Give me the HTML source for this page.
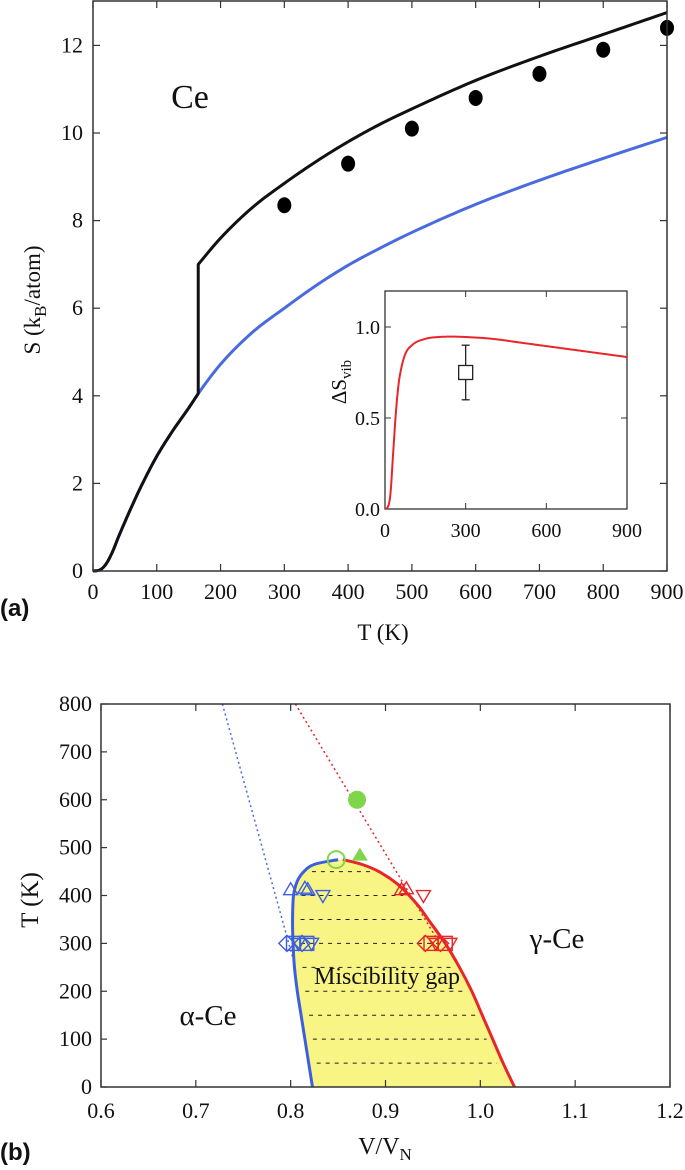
<!DOCTYPE html>
<html><head><meta charset="utf-8">
<style>
html,body{margin:0;padding:0;background:#fff;}
svg{display:block;}
text{font-family:"Liberation Serif","DejaVu Serif",serif;}
text.sans{font-family:"Liberation Sans",sans-serif;}
</style></head>
<body>
<svg id="fig" width="685" height="1170" viewBox="0 0 685 1170" xmlns="http://www.w3.org/2000/svg"></svg>
<script>
// ---------- data: panel (a) ----------
const aTicksX = [0,100,200,300,400,500,600,700,800,900];
const aTicksY = [0,2,4,6,8,10,12];
const blueT = [0,10,20,30,40,50,60,75,100,125,150,165,200,250,300,350,400,450,500,600,700,800,900];
const blueS = [0,0.02,0.15,0.42,0.78,1.12,1.45,1.92,2.62,3.2,3.72,4.05,4.72,5.45,6.0,6.52,6.98,7.37,7.73,8.37,8.92,9.42,9.9];
const blackT = [165,200,250,300,350,400,450,500,600,700,800,900];
const blackS = [7.0,7.6,8.3,8.85,9.35,9.8,10.2,10.55,11.2,11.75,12.25,12.75];
const dotT = [300,400,500,600,700,800,900];
const dotS = [8.35,9.3,10.1,10.8,11.35,11.9,12.4];
// inset
const inTicksX = [0,300,600,900];
const inTicksY = [0.0,0.5,1.0];
const inT = [0,10,20,30,40,50,60,75,100,150,200,250,300,400,500,600,700,800,900];
const inDS = [0,0.01,0.08,0.3,0.52,0.68,0.77,0.85,0.9,0.935,0.945,0.947,0.945,0.935,0.915,0.895,0.875,0.855,0.835];
const inPtT = [300]; const inPtV = [0.75]; const inPtErr = [0.15];
// ---------- data: panel (b) ----------
const bTicksX = [0.6,0.7,0.8,0.9,1.0,1.1,1.2];
const bTicksY = [0,100,200,300,400,500,600,700,800];
const blueBT = [0,50,100,150,200,250,300,350,400,430,450,465,475];
const blueBV = [0.823,0.819,0.815,0.811,0.807,0.804,0.8025,0.802,0.803,0.807,0.814,0.825,0.85];
const redBT = [475,465,450,425,400,375,350,300,250,200,150,100,50,0];
const redBV = [0.855,0.875,0.893,0.912,0.925,0.936,0.945,0.963,0.978,0.991,1.002,1.013,1.024,1.036];
const blueDotT = [800,250]; const blueDotV = [0.728,0.805];
const redDotT = [800,300]; const redDotV = [0.805,0.957];
const gapLevels = [50,100,150,200,250,300,350,400,450];
const blueUpV = [0.80,0.815,0.818]; const blueUpT = [412,415,412];
const blueDnV = [0.834]; const blueDnT = [400];
const blue300V = [0.796,0.803,0.808,0.812,0.817,0.822];
const redUpV = [0.917,0.922]; const redUpT = [412,414];
const redDnV = [0.94]; const redDnT = [400];
const red300V = [0.942,0.948,0.953,0.958,0.963,0.968];

const NS="http://www.w3.org/2000/svg";
const svg=document.getElementById('fig');
function mk(tag,attrs,parent){const e=document.createElementNS(NS,tag);for(const k in attrs)e.setAttribute(k,attrs[k]);(parent||svg).appendChild(e);return e;}
function txt(s,x,y,size,parent,anchor){const t=mk('text',{x:x,y:y,'font-size':size,'text-anchor':anchor||'middle',fill:'#111'},parent);t.textContent=s;return t;}
function smooth(pts){let d='M'+pts[0][0]+','+pts[0][1];for(let i=0;i<pts.length-1;i++){const p0=pts[Math.max(0,i-1)],p1=pts[i],p2=pts[i+1],p3=pts[Math.min(pts.length-1,i+2)];const c1=[p1[0]+(p2[0]-p0[0])/6,p1[1]+(p2[1]-p0[1])/6],c2=[p2[0]-(p3[0]-p1[0])/6,p2[1]-(p3[1]-p1[1])/6];d+=' C'+c1[0]+','+c1[1]+' '+c2[0]+','+c2[1]+' '+p2[0]+','+p2[1];}return d;}
function mono(xs,ys,n){const m=xs.length;const d=[],t=new Array(m);for(let i=0;i<m-1;i++)d.push((ys[i+1]-ys[i])/(xs[i+1]-xs[i]));
 t[0]=d[0];t[m-1]=d[m-2];for(let i=1;i<m-1;i++){t[i]=(d[i-1]*d[i]<=0)?0:(d[i-1]+d[i])/2;}
 for(let i=0;i<m-1;i++){if(d[i]===0){t[i]=t[i+1]=0;continue;}const a=t[i]/d[i],b=t[i+1]/d[i],s=a*a+b*b;if(s>9){const k=3/Math.sqrt(s);t[i]=k*a*d[i];t[i+1]=k*b*d[i];}}
 const out=[];for(let i=0;i<m-1;i++){const h=xs[i+1]-xs[i];for(let j=0;j<n;j++){const u=j/n,h00=2*u*u*u-3*u*u+1,h10=u*u*u-2*u*u+u,h01=-2*u*u*u+3*u*u,h11=u*u*u-u*u;out.push([xs[i]+u*h,h00*ys[i]+h10*h*t[i]+h01*ys[i+1]+h11*h*t[i+1]]);}}
 out.push([xs[m-1],ys[m-1]]);return out;}
function poly(pts){return 'M'+pts.map(p=>p[0].toFixed(2)+','+p[1].toFixed(2)).join(' L');}

// ===== panel (a) =====
const ax=v=>93+v*(667-93)/900, ay=v=>571-v*87.6/2;
const ga=mk('g',{});


aTicksX.forEach(v=>{mk('line',{x1:ax(v),x2:ax(v),y1:571,y2:564,stroke:'#333','stroke-width':1.2},ga);mk('line',{x1:ax(v),x2:ax(v),y1:1,y2:8,stroke:'#333','stroke-width':1.2},ga);
 const t=txt(String(v),ax(v),599,22,ga);});
aTicksY.forEach(v=>{mk('line',{x1:93,x2:100,y1:ay(v),y2:ay(v),stroke:'#333','stroke-width':1.2},ga);mk('line',{x1:667,x2:660,y1:ay(v),y2:ay(v),stroke:'#333','stroke-width':1.2},ga);
 const t=txt(String(v),83,ay(v)+7,22,ga,'end');});
const bluePts=mono(blueT,blueS,12).map(p=>[ax(p[0]),ay(p[1])]);
const bl=mk('path',{d:poly(bluePts),fill:'none',stroke:'#4a6be0','stroke-width':3},ga);


const lowIdx=blueT.filter(t=>t<=165).length;
const lowPts=mono(blueT.slice(0,lowIdx),blueS.slice(0,lowIdx),12).map(p=>[ax(p[0]),ay(p[1])]);
const highPts=mono(blackT,blackS,12).map(p=>[ax(p[0]),ay(p[1])]);
const bk=mk('path',{d:poly(lowPts.concat(highPts)),fill:'none',stroke:'#111','stroke-width':3},ga);


dotT.forEach((t,i)=>{const c=mk('ellipse',{cx:ax(t),cy:ay(dotS[i]),rx:7,ry:8,fill:'#000'},ga);
 
 });
const fa=mk('rect',{x:93,y:1,width:574,height:570,fill:'none',stroke:'#333','stroke-width':1.5},ga);


const ce=txt('Ce',190,108,34,ga);
const ylab=mk('text',{x:0,y:0,'font-size':23,'text-anchor':'middle',fill:'#111',transform:'translate(40,300) rotate(-90)'},ga);
ylab.innerHTML='S (k<tspan font-size="17" dy="6">B</tspan><tspan dy="-6">/atom)</tspan>';

const xl=txt('T (K)',383,640,23,ga);
const la=mk('text',{x:0,y:616,'font-size':24,'font-weight':'bold',class:'sans',fill:'#111'},ga);la.textContent='(a)';


// inset
const ix=v=>385+v*(627-385)/900, iy=v=>509-v*182;
const gi=mk('g',{},ga);


mk('rect',{x:385,y:291,width:242,height:218,fill:'#fff',stroke:'#333','stroke-width':1.3},gi);
inTicksX.forEach(v=>{mk('line',{x1:ix(v),x2:ix(v),y1:509,y2:503,stroke:'#333'},gi);mk('line',{x1:ix(v),x2:ix(v),y1:291,y2:297,stroke:'#333'},gi);
 const t=txt(String(v),ix(v),537,20,gi);});
inTicksY.forEach(v=>{mk('line',{x1:385,x2:391,y1:iy(v),y2:iy(v),stroke:'#333'},gi);mk('line',{x1:627,x2:621,y1:iy(v),y2:iy(v),stroke:'#333'},gi);
 const t=txt(v.toFixed(1),380,iy(v)+7,20,gi,'end');});
const rc=mk('path',{d:poly(mono(inT,inDS,12).map(p=>[ix(p[0]),iy(p[1])])),fill:'none',stroke:'#e8262a','stroke-width':2},gi);


inPtT.forEach((t,i)=>{const g=mk('g',{},gi);
 mk('line',{x1:ix(t),x2:ix(t),y1:iy(inPtV[i]+inPtErr[i]),y2:iy(inPtV[i]-inPtErr[i]),stroke:'#222','stroke-width':1.3},g);
 [inPtV[i]+inPtErr[i],inPtV[i]-inPtErr[i]].forEach(v=>mk('line',{x1:ix(t)-4,x2:ix(t)+4,y1:iy(v),y2:iy(v),stroke:'#222','stroke-width':1.3},g));
 mk('rect',{x:ix(t)-7,y:iy(inPtV[i])-7,width:14,height:14,fill:'#fff',stroke:'#222','stroke-width':1.3},g);});
const iyl=mk('text',{x:0,y:0,'font-size':21,'text-anchor':'middle',fill:'#111',transform:'translate(346,382) rotate(-90)'},gi);
iyl.innerHTML='ΔS<tspan font-size="15" dy="5">vib</tspan>';


// ===== panel (b) =====
const bx=v=>101+(v-0.6)*(670-101)/0.6, by=v=>1087-v*(1087-704)/800;
const gb=mk('g',{});


const fillPts=blueBT.map((t,i)=>[bx(blueBV[i]),by(t)]);
const redPts=redBT.map((t,i)=>[bx(redBV[i]),by(t)]);
const fd=smooth(fillPts)+' '+smooth(redPts).replace('M','L')+' Z';
const fl=mk('path',{d:fd,fill:'#f8f585',stroke:'none'},gb);


function interp(T,ts,vs){for(let i=0;i<ts.length-1;i++){const a=ts[i],b=ts[i+1];if((T-a)*(T-b)<=0){const f=(T-a)/(b-a||1);return vs[i]+f*(vs[i+1]-vs[i]);}}return vs[0];}
gapLevels.forEach(T=>{const l=mk('line',{x1:bx(interp(T,blueBT,blueBV))+8,x2:bx(interp(T,redBT,redBV))-6,y1:by(T),y2:by(T),stroke:'#222','stroke-width':1,'stroke-dasharray':'4,5'},gb);
 });
const dbl=mk('line',{x1:bx(blueDotV[0]),y1:by(blueDotT[0]),x2:bx(blueDotV[1]),y2:by(blueDotT[1]),stroke:'#4a6be0','stroke-width':1.5,'stroke-dasharray':'2,3'},gb);

const drl=mk('line',{x1:bx(redDotV[0]),y1:by(redDotT[0]),x2:bx(redDotV[1]),y2:by(redDotT[1]),stroke:'#e8262a','stroke-width':1.5,'stroke-dasharray':'2,3'},gb);

const bb=mk('path',{d:smooth(fillPts),fill:'none',stroke:'#3b5fe0','stroke-width':3},gb);

const rb=mk('path',{d:smooth(redPts),fill:'none',stroke:'#e8262a','stroke-width':3},gb);

mk('line',{x1:bx(1.036),x2:670,y1:1087,y2:1087,stroke:'#e8262a','stroke-width':1},gb);
function tri(x,y,up,col,name){const s=7;const p=up?[[x,y-s],[x-s,y+s*0.7],[x+s,y+s*0.7]]:[[x,y+s],[x-s,y-s*0.7],[x+s,y-s*0.7]];
 const e=mk('polygon',{points:p.map(q=>q.join(',')).join(' '),fill:'none',stroke:col,'stroke-width':1.4},gb);
 }
blueUpV.forEach((v,i)=>tri(bx(v),by(blueUpT[i]),true,'#3b5fe0','alpha-marker'));
blueDnV.forEach((v,i)=>tri(bx(v),by(blueDnT[i]),false,'#3b5fe0','alpha-marker'));
redUpV.forEach((v,i)=>tri(bx(v),by(redUpT[i]),true,'#e8262a','gamma-marker'));
redDnV.forEach((v,i)=>tri(bx(v),by(redDnT[i]),false,'#e8262a','gamma-marker'));
function cluster(vs,col,name){vs.forEach((v,i)=>{const x=bx(v),y=by(300);let e;
 if(i%3===0)e=mk('polygon',{points:`${x-8},${y} ${x},${y-8} ${x+8},${y} ${x},${y+8}`,fill:'none',stroke:col,'stroke-width':1.4},gb);
 else if(i%3===1)e=mk('rect',{x:x-7,y:y-7,width:14,height:14,fill:'none',stroke:col,'stroke-width':1.4},gb);
 else e=mk('polygon',{points:`${x-7},${y-5} ${x+7},${y-5} ${x},${y+7}`,fill:'none',stroke:col,'stroke-width':1.4},gb);
 });}
cluster(blue300V,'#3b5fe0','alpha-marker');
cluster(red300V,'#e8262a','gamma-marker');
const gc=mk('ellipse',{cx:bx(0.87),cy:by(600),rx:9,ry:9,fill:'#7fd64a'},gb);

const oc=mk('circle',{cx:bx(0.848),cy:by(475),r:8.5,fill:'none',stroke:'#7fd64a','stroke-width':2},gb);

const gt=mk('polygon',{points:`${bx(0.873)},${by(475)-12} ${bx(0.873)-8},${by(475)+1} ${bx(0.873)+8},${by(475)+1}`,fill:'#7fd64a'},gb);

const fb=mk('rect',{x:101,y:704,width:569,height:383,fill:'none',stroke:'#333','stroke-width':1.5},gb);

bTicksX.forEach(v=>{mk('line',{x1:bx(v),x2:bx(v),y1:1087,y2:1080,stroke:'#333','stroke-width':1.2},gb);mk('line',{x1:bx(v),x2:bx(v),y1:704,y2:711,stroke:'#333','stroke-width':1.2},gb);
 const t=txt(v.toFixed(1),bx(v),1118,22,gb);});
bTicksY.forEach(v=>{mk('line',{x1:101,x2:107,y1:by(v),y2:by(v),stroke:'#333','stroke-width':1.2},gb);
 const t=txt(String(v),92,by(v)+7,22,gb,'end');});
const byl=mk('text',{x:0,y:0,'font-size':25,'text-anchor':'middle',fill:'#111',transform:'translate(38,900) rotate(-90)'},gb);
byl.textContent='T (K)';
const bxl=mk('text',{x:385,y:1154,'font-size':24,'text-anchor':'middle',fill:'#111'},gb);
bxl.innerHTML='V/V<tspan font-size="17" dy="6">N</tspan>';

const lb=mk('text',{x:0,y:1160,'font-size':24,'font-weight':'bold',class:'sans',fill:'#111'},gb);lb.textContent='(b)';

const al=txt('α-Ce',208,1025,29,gb);
const gl=txt('γ-Ce',557,948,29,gb);
const ml=txt('Miscibility gap',387,984,24,gb);
</script>
</body></html>
